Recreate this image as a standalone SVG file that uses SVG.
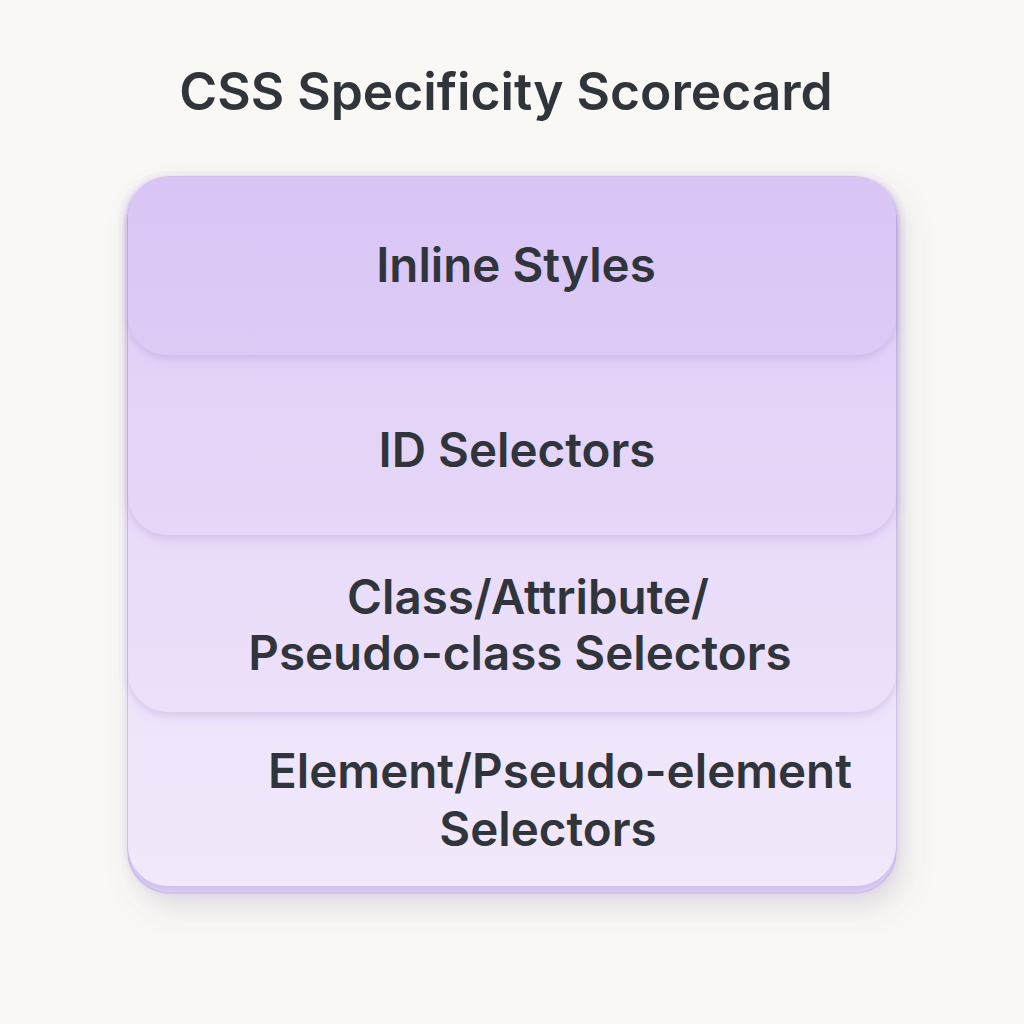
<svg xmlns="http://www.w3.org/2000/svg" width="1024" height="1024" viewBox="0 0 1024 1024">
  <defs>
    <filter id="outer" x="-20%" y="-20%" width="140%" height="140%">
      <feDropShadow dx="8" dy="14" stdDeviation="14" flood-color="#6b5a8a" flood-opacity="0.18"/>
    </filter>
    <filter id="band" x="-10%" y="-10%" width="120%" height="130%">
      <feDropShadow dx="0" dy="4" stdDeviation="5" flood-color="#8a6cc4" flood-opacity="0.26"/>
    </filter>
    <linearGradient id="g1" x1="0" y1="0" x2="0" y2="1">
      <stop offset="0" stop-color="#D9C5F4"/>
      <stop offset="1" stop-color="#DDCBF6"/>
    </linearGradient>
    <linearGradient id="g2" x1="0" y1="0" x2="0" y2="1">
      <stop offset="0" stop-color="#DFCDF6"/>
      <stop offset="1" stop-color="#E6D7F8"/>
    </linearGradient>
    <linearGradient id="g3" x1="0" y1="0" x2="0" y2="1">
      <stop offset="0" stop-color="#E3D4F7"/>
      <stop offset="1" stop-color="#ECE0FA"/>
    </linearGradient>
    <linearGradient id="g4" x1="0" y1="0" x2="0" y2="1">
      <stop offset="0" stop-color="#E8DCF9"/>
      <stop offset="1" stop-color="#F1E8FB"/>
    </linearGradient>
  </defs>
  <style>
    .t { font-family: Inter, "Liberation Sans", sans-serif; font-weight: 600; fill: #30343B; text-anchor: middle; }
    .title { font-size: 51.5px; }
    .lbl { font-size: 47.5px; }
  </style>
  <rect width="1024" height="1024" fill="#FAF8F5"/>
  <text class="t title" x="506" y="110">CSS Specificity Scorecard</text>

  <g id="card" filter="url(#outer)">
    <rect x="128" y="177" width="768" height="716" rx="42" fill="#E2D5F7" stroke="#D3C2F2" stroke-width="1.5"/>
  </g>
  <g id="element">
    <rect x="128" y="177" width="768" height="709" rx="40" fill="url(#g4)" filter="url(#band)"/>
    <text class="t lbl" x="560" y="788">Element/Pseudo-element</text>
    <text class="t lbl" x="548" y="846">Selectors</text>
  </g>
  <g id="class">
    <rect x="128" y="177" width="768" height="535" rx="40" fill="url(#g3)" filter="url(#band)"/>
    <text class="t lbl" x="528" y="614">Class/Attribute/</text>
    <text class="t lbl" x="520" y="670">Pseudo-class Selectors</text>
  </g>
  <g id="id">
    <rect x="128" y="177" width="768" height="358" rx="40" fill="url(#g2)" filter="url(#band)"/>
    <text class="t lbl" x="517" y="467">ID Selectors</text>
  </g>
  <g id="inline">
    <rect x="128" y="177" width="768" height="178" rx="40" fill="url(#g1)" filter="url(#band)"/>
    <text class="t lbl" x="516" y="282">Inline Styles</text>
  </g>
  <g id="connectors"/>
</svg>
